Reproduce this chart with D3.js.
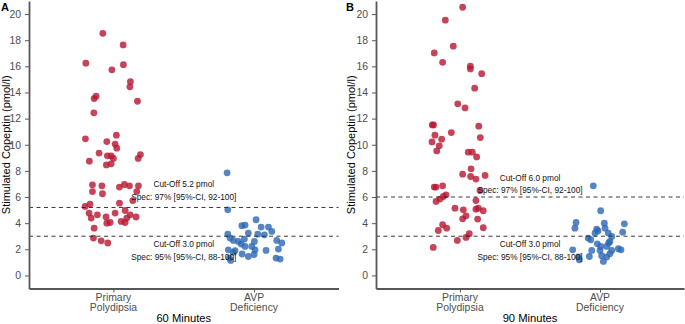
<!DOCTYPE html>
<html>
<head>
<meta charset="utf-8">
<script src="https://cdn.jsdelivr.net/npm/d3@7"></script>
<style>
  body { margin: 0; background: #fff; }
  text { font-family: "Liberation Sans", Arial, Helvetica, sans-serif; }
</style>
</head>
<body>
<svg id="svg" width="685" height="324"></svg>
<script>
// categories, ticks, titles
let categories = [["Primary", "Polydipsia"], ["AVP", "Deficiency"]];
let yTicks = [0, 2, 4, 6, 8, 10, 12, 14, 16, 18, 20];
let timepoints = ["60 Minutes", "90 Minutes"];
let panelTags = ["A", "B"];
let yTitle = "Stimulated Copeptin (pmol/l)";

// stimulated copeptin (pmol/l); jitter is in category units
let pp60 = [18.53, 17.64, 16.24, 16.13, 15.73, 14.83, 14.43, 13.72, 13.53, 13.33, 12.44, 10.45, 10.73, 10.24, 10.05,
  9.74, 9.36, 9.25, 8.95, 9.15, 9.15, 8.95, 8.74, 8.46, 8.54, 6.93, 6.86, 6.42, 6.25, 6.76, 6.96, 6.86, 6.86, 6.42,
  5.73, 5.53, 5.28, 5.46, 4.77, 4.39, 4.64, 4.47, 4.0, 4.05, 4.77, 4.97, 4.64, 4.39, 4.13, 4.05, 4.47, 3.62, 2.86, 2.65, 2.48];
let pp60Jitter = [-0.075, 0.069, -0.196, 0.071, -0.011, 0.121, 0.117, -0.123, -0.137, 0.171, -0.139, -0.199, 0.021, -0.047, 0.012,
  0.024, -0.102, 0.192, 0.176, -0.043, -0.016, 0, -0.171, -0.05, -0.016, -0.149, -0.082, -0.149, -0.078, 0.043, 0.078, 0.114, 0.178, 0.166,
  0.138, 0.043, -0.201, -0.166, -0.173, -0.158, -0.114, -0.052, -0.047, -0.023, 0.012, 0.083, 0.119, 0.095, 0.055, 0.083, 0.161, -0.137, -0.142, -0.087, -0.04];

let avp60 = [7.85, 5.02, 4.26, 3.8, 3.85, 3.7, 3.7, 3.37, 3.24, 3.16, 3.11, 3.16, 2.86, 2.68, 2.6, 2.4, 2.78, 2.6,
  2.68, 2.48, 1.96, 1.9, 2.22, 2.22, 1.96, 1.91, 2.02, 1.76, 1.64, 1.45, 1.6, 1.33, 1.25, 1.33, 1.15];
let avp60Jitter = [-0.192, -0.187, 0.014, -0.087, -0.064, 0.05, 0.102, 0.126, -0.041, 0.026, 0.073, -0.187, -0.171, -0.147, -0.112, -0.092, -0.069, 0.002,
  0.161, 0.197, -0.183, -0.135, -0.064, -0.016, 0.007, 0.085, 0.173, -0.147, -0.085, -0.041, 0, 0.156, 0.185, -0.176, -0.166];

let pp90 = [20.52, 19.53, 17.54, 17.03, 16.31, 16.01, 15.8, 15.44, 14.33, 13.13, 12.82, 11.52, 11.52, 11.42, 10.73, 10.93, 10.43, 10.55,
  10.22, 9.92, 9.53, 9.43, 9.43, 9.07, 7.75, 8.16, 7.57, 7.37, 7.65, 6.76, 6.76, 6.86, 6.17, 6.04, 5.84, 5.66, 6.5, 5.73,
  5.15, 5.02, 5.07, 5.15, 4.95, 4.56, 4.33, 4.31, 3.65, 3.88, 3.62, 3.44, 3.19, 2.91, 2.68, 2.14];
let pp90Jitter = [0.019, -0.105, -0.048, -0.184, -0.124, 0.074, 0.074, 0.155, 0.105, -0.016, 0.036, -0.198, -0.189, 0.134, -0.179, -0.062, -0.131, 0.145,
  -0.2, -0.148, -0.166, 0.059, 0.088, 0.119, 0.019, 0.079, 0.076, 0.114, 0.179, -0.184, -0.171, -0.124, -0.1, -0.119, -0.143, -0.171, 0.143, 0.114,
  -0.036, 0.024, 0.114, 0.131, 0.166, 0.043, 0.019, 0.126, 0.166, -0.124, -0.095, -0.155, 0.066, 0.043, -0.019, -0.191];

let avp90 = [6.86, 4.95, 4.05, 3.62, 4.0, 3.62, 3.95, 3.31, 3.55, 3.24, 3.24, 2.98, 2.86, 2.73, 2.6, 2.42, 2.22,
  1.96, 1.91, 1.91, 1.91, 2.04, 1.96, 1.41, 1.2, 1.45, 1.51, 1.41, 1.07, 2.22, 1.66, 3.4, 2.48];
let avp90Jitter = [-0.048, 0.005, -0.171, -0.179, 0.031, 0.036, 0.174, 0.162, -0.024, -0.036, 0.059, 0.084, -0.084, -0.066, 0.071, -0.019, 0.048,
  -0.195, -0.059, 0, 0.084, 0.131, 0.15, -0.155, -0.148, -0.076, 0.012, 0.048, 0.024, 0.005, 0.071, -0.014, 0.062];

// cut-offs with their annotations
let cutoffs60 = [5.2, 3.0];
let cutoffs90 = [6.0, 3.0];
let cutoffText60 = [["Cut-Off 5.2 pmol", "Spec: 97% [95%-CI, 92-100]"], ["Cut-Off 3.0 pmol", "Spec: 95% [95%-CI, 88-100]"]];
let cutoffText90 = [["Cut-Off 6.0 pmol", "Spec: 97% [95%-CI, 92-100]"], ["Cut-Off 3.0 pmol", "Spec: 95% [95%-CI, 88-100]"]];
let labelAt60 = [[7.0, 6.0], [2.4, 1.4]];
let labelAt90 = [[7.46, 6.5], [2.4, 1.4]];

// colors
let red = "#b8152f";
let blue = "#2a66b3";
let axisGrey = "#575757";
let tickText = "#4d4d4d";

let svg = d3.select("#svg");

let panels = [
  { tag: panelTags[0], title: timepoints[0], left: 29, right: 338.5, tagX: 1, titleX: 9.5,
    groups: [[pp60, pp60Jitter], [avp60, avp60Jitter]], cut: cutoffs60, cutText: cutoffText60, labelAt: labelAt60 },
  { tag: panelTags[1], title: timepoints[1], left: 376, right: 684, tagX: 346, titleX: 355,
    groups: [[pp90, pp90Jitter], [avp90, avp90Jitter]], cut: cutoffs90, cutText: cutoffText90, labelAt: labelAt90 }
];

let plotTop = 1, plotBottom = 288.5;
let colors = [red, blue];

let y = d3.scaleLinear().domain([-1, 21]).range([plotBottom, plotTop]);

panels.forEach(function (p) {
  let g = svg.append("g");
  let x = d3.scaleLinear().domain([0.4, 2.6]).range([p.left, p.right]);

  // points
  p.groups.forEach(function (grp, gi) {
    let pts = grp[0].map(function (v, i) { return { v: v, j: grp[1][i] }; });
    g.append("g").selectAll("circle")
      .data(pts)
      .join("circle")
      .attr("cx", function (d) { return x(gi + 1 + d.j); })
      .attr("cy", function (d) { return y(d.v); })
      .attr("r", 3.4)
      .attr("fill", colors[gi])
      .attr("fill-opacity", 0.8);
  });

  // dashed cut-off lines
  g.selectAll("line.cut")
    .data(p.cut)
    .join("line")
    .attr("class", "cut")
    .attr("x1", p.left).attr("x2", p.right)
    .attr("y1", function (d) { return y(d); })
    .attr("y2", function (d) { return y(d); })
    .attr("stroke", "#222")
    .attr("stroke-width", 0.9)
    .attr("stroke-dasharray", "4,3.5");

  // annotations
  p.cutText.forEach(function (lines, ci) {
    lines.forEach(function (t, li) {
      g.append("text")
        .attr("x", x(1.5))
        .attr("y", y(p.labelAt[ci][li]))
        .attr("dy", "0.35em")
        .attr("text-anchor", "middle")
        .attr("font-size", 8.3)
        .attr("fill", "#111")
        .text(t);
    });
  });

  // y axis
  let yAxis = g.append("g")
    .attr("transform", "translate(" + p.left + ",0)")
    .call(d3.axisLeft(y).tickValues(yTicks).tickSize(4).tickPadding(4).tickSizeOuter(0));
  yAxis.select(".domain").attr("stroke", axisGrey).attr("stroke-width", 1.8);
  yAxis.selectAll(".tick line").attr("stroke", axisGrey).attr("stroke-width", 1);
  yAxis.selectAll(".tick text").attr("fill", tickText).attr("font-size", 10.4)
    .attr("font-family", "Liberation Sans, Arial, sans-serif");

  // x axis
  let xAxis = g.append("g")
    .attr("transform", "translate(0," + plotBottom + ")")
    .call(d3.axisBottom(x).tickValues([1, 2]).tickSize(4).tickSizeOuter(0).tickFormat(""));
  xAxis.select(".domain").attr("stroke", axisGrey).attr("stroke-width", 1.8);
  xAxis.selectAll(".tick line").attr("stroke", axisGrey).attr("stroke-width", 1);

  categories.forEach(function (c, ci) {
    let t = g.append("text")
      .attr("x", x(ci + 1))
      .attr("y", plotBottom + 12.3)
      .attr("text-anchor", "middle")
      .attr("font-size", 10.4)
      .attr("fill", tickText);
    c.forEach(function (line, li) {
      t.append("tspan").attr("x", x(ci + 1)).attr("dy", li === 0 ? 0 : 10.4).text(line);
    });
  });

  // titles
  g.append("text")
    .attr("x", (p.left + p.right) / 2)
    .attr("y", 322)
    .attr("text-anchor", "middle")
    .attr("font-size", 11.2)
    .attr("fill", "#000")
    .text(p.title);

  g.append("text")
    .attr("transform", "translate(" + p.titleX + "," + ((plotTop + plotBottom) / 2) + ") rotate(-90)")
    .attr("text-anchor", "middle")
    .attr("font-size", 11)
    .attr("fill", "#000")
    .text(yTitle);

  g.append("text")
    .attr("x", p.tagX)
    .attr("y", 10.5)
    .attr("font-size", 11)
    .attr("font-weight", "bold")
    .attr("fill", "#000")
    .text(p.tag);
});
</script>
</body>
</html>
